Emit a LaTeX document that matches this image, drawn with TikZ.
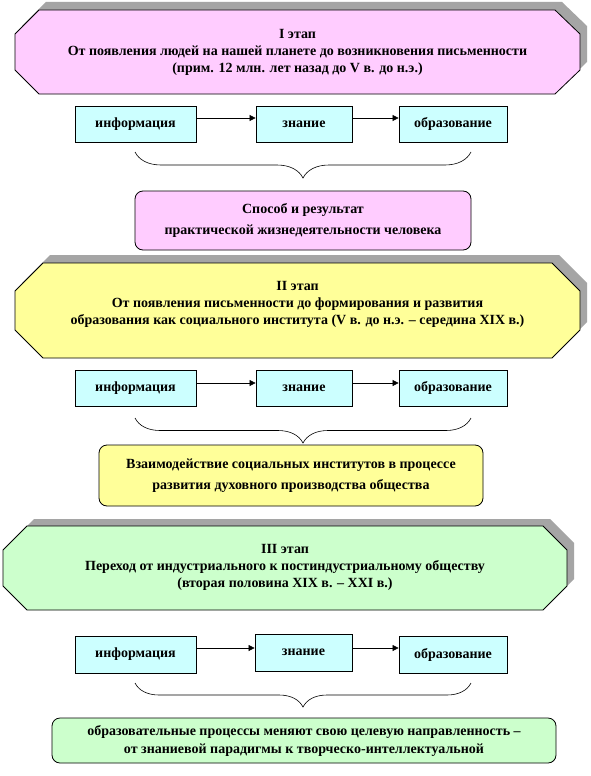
\documentclass[tikz,border=0pt]{standalone}
\usepackage{fontspec}
\setmainfont{Liberation Serif}
\usetikzlibrary{arrows.meta,decorations.pathreplacing}
\definecolor{pinkf}{RGB}{255,204,255}
\definecolor{yelf}{RGB}{255,255,153}
\definecolor{grnf}{RGB}{204,255,204}
\definecolor{cyanf}{RGB}{204,255,255}
\definecolor{shad}{RGB}{165,165,165}
\begin{document}
\begin{tikzpicture}[x=1pt,y=-1pt,
  every node/.style={font=\fontsize{14}{17}\selectfont\bfseries},
  octline/.style={draw=black,line width=0.8pt},
  shadowfill/.style={fill=shad,draw=none},
  termbox/.style={draw=black,line width=0.8pt,fill=cyanf,minimum height=36pt,inner sep=0pt},
  resbox/.style={draw=black,line width=0.8pt,rounded corners=8pt,inner sep=0pt,align=center},
  arr/.style={-{Triangle[length=6pt,width=6pt]},line width=0.6pt},
  curly/.style={decorate,decoration={brace,mirror,amplitude=#1},line width=0.6pt}
]
\useasboundingbox[fill=white] (0,0) rectangle (590,776);

% ---------- Stage I ----------
\fill[shadowfill,shift={(7,-8)}] (39,10) -- (555,10) -- (580,34) -- (580,70) -- (555,94) -- (39,94) -- (15,70) -- (15,34) -- cycle;
\draw[octline,fill=pinkf] (39,10) -- (555,10) -- (580,34) -- (580,70) -- (555,94) -- (39,94) -- (15,70) -- (15,34) -- cycle;
\node[align=center] (s1) at (297.5,52) {I этап\\От появления людей на нашей планете до возникновения письменности\\(прим. 12 млн. лет назад до V в. до н.э.)};

\node[termbox,minimum width=121pt] (i1) at (135.5,124) {информация};
\node[termbox,minimum width=96pt] (z1) at (304,124) {знание};
\node[termbox,minimum width=108pt] (o1) at (453,124) {образование};
\coordinate (a1) at ([yshift=6pt]i1.east);
\coordinate (a2) at ([yshift=6pt]z1.east);
\draw[arr] (a1) -- (a1 -| z1.west);
\draw[arr] (a2) -- (a2 -| o1.west);

\coordinate (b1l) at (135,152);
\coordinate (b1r) at (471,152);
\draw[curly=26pt] (b1l) -- (b1r);

\node[resbox,fill=pinkf,minimum width=336pt,minimum height=59pt,font=\fontsize{14}{21}\selectfont\bfseries] (r1) at (303,220.5) {Способ и результат\\практической жизнедеятельности человека};

% ---------- Stage II ----------
\fill[shadowfill,shift={(7,-8)}] (43,263) -- (552,263) -- (580,291) -- (580,330) -- (552,358) -- (43,358) -- (15,330) -- (15,291) -- cycle;
\draw[octline,fill=yelf] (43,263) -- (552,263) -- (580,291) -- (580,330) -- (552,358) -- (43,358) -- (15,330) -- (15,291) -- cycle;
\node[align=center] (s2) at (297.5,304) {II этап\\От появления письменности до формирования и развития\\образования как социального института (V в. до н.э. – середина XIX в.)};

\node[termbox,minimum width=121pt] (i2) at (135.5,388) {информация};
\node[termbox,minimum width=96pt] (z2) at (304,388) {знание};
\node[termbox,minimum width=108pt] (o2) at (453,388) {образование};
\coordinate (a3) at ([yshift=5pt]i2.east);
\coordinate (a4) at ([yshift=5pt]z2.east);
\draw[arr] (a3) -- (a3 -| z2.west);
\draw[arr] (a4) -- (a4 -| o2.west);

\coordinate (b2l) at (135,418);
\coordinate (b2r) at (471,418);
\draw[curly=25pt] (b2l) -- (b2r);

\node[resbox,fill=yelf,minimum width=384pt,minimum height=61pt,font=\fontsize{14}{21}\selectfont\bfseries] (r2) at (291,475.5) {Взаимодействие социальных институтов в процессе\\развития духовного производства общества};

% ---------- Stage III ----------
\fill[shadowfill,shift={(7,-7)}] (27,526) -- (543,526) -- (567,550) -- (567,586) -- (543,610) -- (27,610) -- (3,586) -- (3,550) -- cycle;
\draw[octline,fill=grnf] (27,526) -- (543,526) -- (567,550) -- (567,586) -- (543,610) -- (27,610) -- (3,586) -- (3,550) -- cycle;
\node[align=center] (s3) at (285,567) {III этап\\Переход от индустриального к постиндустриальному обществу\\(вторая половина XIX в. – XXI в.)};

\node[termbox,minimum width=121pt,minimum height=37pt] (i3) at (135.5,654.5) {информация};
\node[termbox,minimum width=97pt,minimum height=37pt] (z3) at (303.5,652.5) {знание};
\node[termbox,minimum width=108pt,minimum height=37pt] (o3) at (453,654.5) {образование};
\coordinate (a5) at ([yshift=6.5pt]i3.east);
\coordinate (a6) at ([yshift=4.5pt]z3.east);
\draw[arr] (a5) -- (a5 -| z3.west);
\draw[arr] (a6) -- (a6 -| o3.west);

\coordinate (b3l) at (135,683);
\coordinate (b3r) at (471,683);
\draw[curly=24pt] (b3l) -- (b3r);

\node[resbox,fill=grnf,minimum width=504pt,minimum height=45pt,font=\fontsize{14}{18}\selectfont\bfseries] (r3) at (304,740.5) {образовательные процессы меняют свою целевую направленность –\\от знаниевой парадигмы к творческо-интеллектуальной};
\end{tikzpicture}
\end{document}
